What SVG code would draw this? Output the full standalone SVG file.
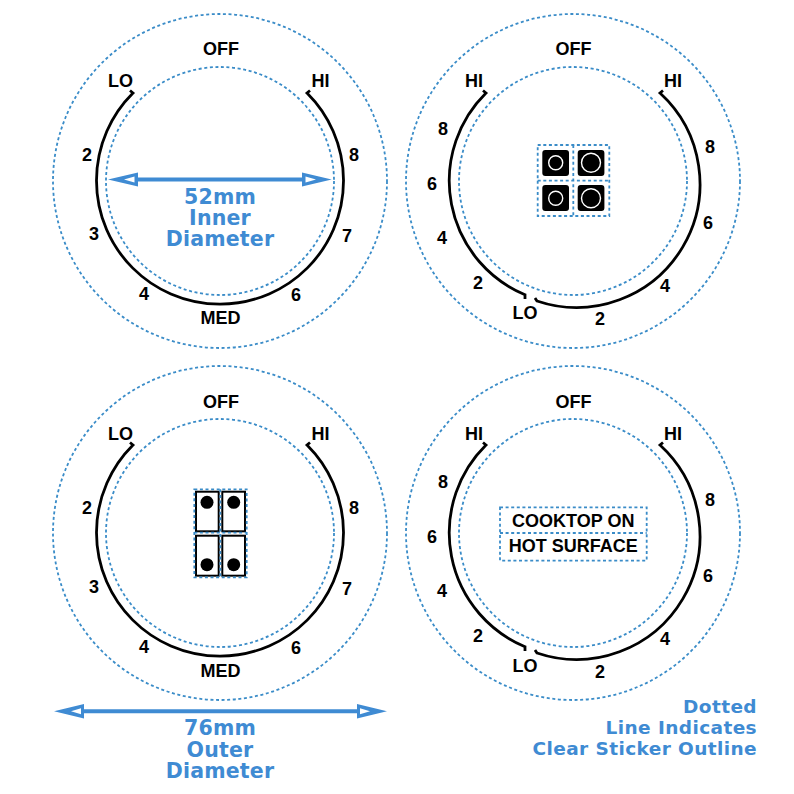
<svg xmlns="http://www.w3.org/2000/svg" width="794" height="794" viewBox="0 0 794 794">
<style>
text{font-family:"Liberation Sans",Arial,sans-serif;font-weight:700;font-size:18px;fill:#000;text-anchor:middle}
text.blue{font-family:"DejaVu Sans",Verdana,sans-serif;font-size:20.5px;letter-spacing:.2px;fill:#3f8bd3}
text.note{font-family:"DejaVu Sans",Verdana,sans-serif;font-size:18.5px;letter-spacing:.4px;fill:#3f8bd3;text-anchor:end}
.dot{fill:none;stroke:#3a8cc8;stroke-width:1.8;stroke-dasharray:3 2.6}
.arc{fill:none;stroke:#000;stroke-width:2.8}
.dim{fill:none;stroke:#3f8bd3;stroke-width:4}
.head{fill:#3f8bd3;fill-rule:evenodd}
.ring{fill:none;stroke:#fff;stroke-width:1.4}
.slot{fill:#fff;stroke:#000;stroke-width:2}
</style>
<rect width="794" height="794" fill="#fff"/>
<g id="connectors">
<path class="arc" d="M130 90.500L133 93A123.500 123.500 0 1 0 307 93L310 90.500"/>
<path class="arc" d="M483 90.500L486 93A123.500 123.500 0 0 0 525 294.800V299M535 298L537 301A123.500 123.500 0 0 0 660 93L663 90.500"/>
<path class="arc" d="M130 442.500L133 445A123.500 123.500 0 1 0 307 445L310 442.500"/>
<path class="arc" d="M483 442.500L486 445A123.500 123.500 0 0 0 525 646.800V651M535 650L537 653A123.500 123.500 0 0 0 660 445L663 442.500"/>
<path class="dim" d="M136 179.500H304"/>
<path class="head" d="M108 179.500L138 172.500V186.500ZM124 179.500L134.500 182.500V176.500Z"/>
<path class="head" d="M331.700 179.500L302 172.500V186.500ZM316 179.500L305.500 182.500V176.500Z"/>
<path class="dim" d="M82 711.300H359"/>
<path class="head" d="M54 711.300L84 704V718.600ZM71 711.300L81 714.300V708.300Z"/>
<path class="head" d="M387 711.300L357 704V718.600ZM370 711.300L360 714.300V708.300Z"/>
</g>
<g id="dial-top-left">
<circle class="dot" cx="220" cy="181" r="167"/><circle class="dot" cx="220" cy="181" r="114"/>
<text x="221" y="55">OFF</text><text x="120.500" y="87">LO</text><text x="320.500" y="87">HI</text>
<text x="87" y="160.500">2</text><text x="94" y="239.500">3</text><text x="144" y="299.500">4</text><text x="220.500" y="324">MED</text><text x="296" y="300.500">6</text><text x="347" y="241.500">7</text><text x="354" y="160.500">8</text>
<text class="blue" x="220" y="204">52mm</text><text class="blue" x="220" y="225">Inner</text><text class="blue" x="220" y="246">Diameter</text>
</g>
<g id="dial-top-right">
<circle class="dot" cx="573" cy="181" r="167"/><circle class="dot" cx="573" cy="181" r="114"/>
<text x="573.500" y="55">OFF</text><text x="474" y="87">HI</text><text x="673" y="87">HI</text>
<text x="443" y="134.500">8</text><text x="432" y="189.500">6</text><text x="442" y="243.500">4</text><text x="478" y="288.500">2</text><text x="525" y="318.500">LO</text><text x="600" y="324.500">2</text><text x="665" y="291.500">4</text><text x="708" y="228.500">6</text><text x="710" y="152.500">8</text>
<rect x="542.300" y="150" width="26.700" height="26" rx="3"/><rect x="577.700" y="150" width="26.700" height="26" rx="3"/><rect x="542.300" y="185" width="26.700" height="26" rx="3"/><rect x="577.700" y="185" width="26.700" height="26" rx="3"/>
<circle class="ring" cx="555.700" cy="162.700" r="7"/><circle class="ring" cx="591" cy="162.700" r="9.500"/><circle class="ring" cx="555.700" cy="198.300" r="7"/><circle class="ring" cx="591" cy="198.300" r="9.500"/>
<rect class="dot" x="537.700" y="145" width="71.600" height="71"/><path class="dot" d="M573.300 145V216M537.700 180.700H609.300"/>
</g>
<g id="dial-bottom-left">
<circle class="dot" cx="220" cy="533" r="167"/><circle class="dot" cx="220" cy="533" r="114"/>
<text x="221" y="407.500">OFF</text><text x="120.500" y="440">LO</text><text x="320.500" y="439.500">HI</text>
<text x="87" y="513.500">2</text><text x="94" y="592.500">3</text><text x="144" y="652.500">4</text><text x="220.500" y="676.500">MED</text><text x="296" y="653.500">6</text><text x="347" y="594.500">7</text><text x="354" y="513.500">8</text>
<rect class="slot" x="196" y="491.700" width="22.700" height="39.600"/><rect class="slot" x="222.300" y="491.700" width="22.700" height="39.600"/><rect class="slot" x="196" y="535.700" width="22.700" height="40"/><rect class="slot" x="222.300" y="535.700" width="22.700" height="40"/>
<circle cx="207" cy="502.300" r="6.500"/><circle cx="233.700" cy="502.300" r="6.500"/><circle cx="207" cy="564.700" r="6.500"/><circle cx="233.700" cy="564.700" r="6.500"/>
<rect class="dot" x="194.300" y="489.300" width="52.400" height="88"/><path class="dot" d="M220.300 489.300V577.300M194.300 532.700H246.700"/>
</g>
<g id="dial-bottom-right">
<circle class="dot" cx="573" cy="533" r="167"/><circle class="dot" cx="573" cy="533" r="114"/>
<text x="573.500" y="407.500">OFF</text><text x="474" y="439.500">HI</text><text x="673" y="439.500">HI</text>
<text x="443" y="487.500">8</text><text x="432" y="542.500">6</text><text x="442" y="596.500">4</text><text x="478" y="641.500">2</text><text x="525" y="672">LO</text><text x="600" y="677.500">2</text><text x="665" y="644.500">4</text><text x="708" y="581.500">6</text><text x="710" y="505.500">8</text>
<rect class="dot" x="500" y="507.300" width="146.700" height="53.400"/><path class="dot" d="M500 533H646.700"/>
<text x="573.300" y="526.700">COOKTOP ON</text><text x="573.300" y="552.300">HOT SURFACE</text>
</g>
<g id="outer-dimension">
<text class="blue" x="220" y="735">76mm</text><text class="blue" x="220" y="756.500">Outer</text><text class="blue" x="220" y="777.500">Diameter</text>
</g>
<g id="note">
<text class="note" x="757" y="713">Dotted</text><text class="note" x="757" y="734.300">Line Indicates</text><text class="note" x="757" y="755">Clear Sticker Outline</text>
</g>
</svg>
